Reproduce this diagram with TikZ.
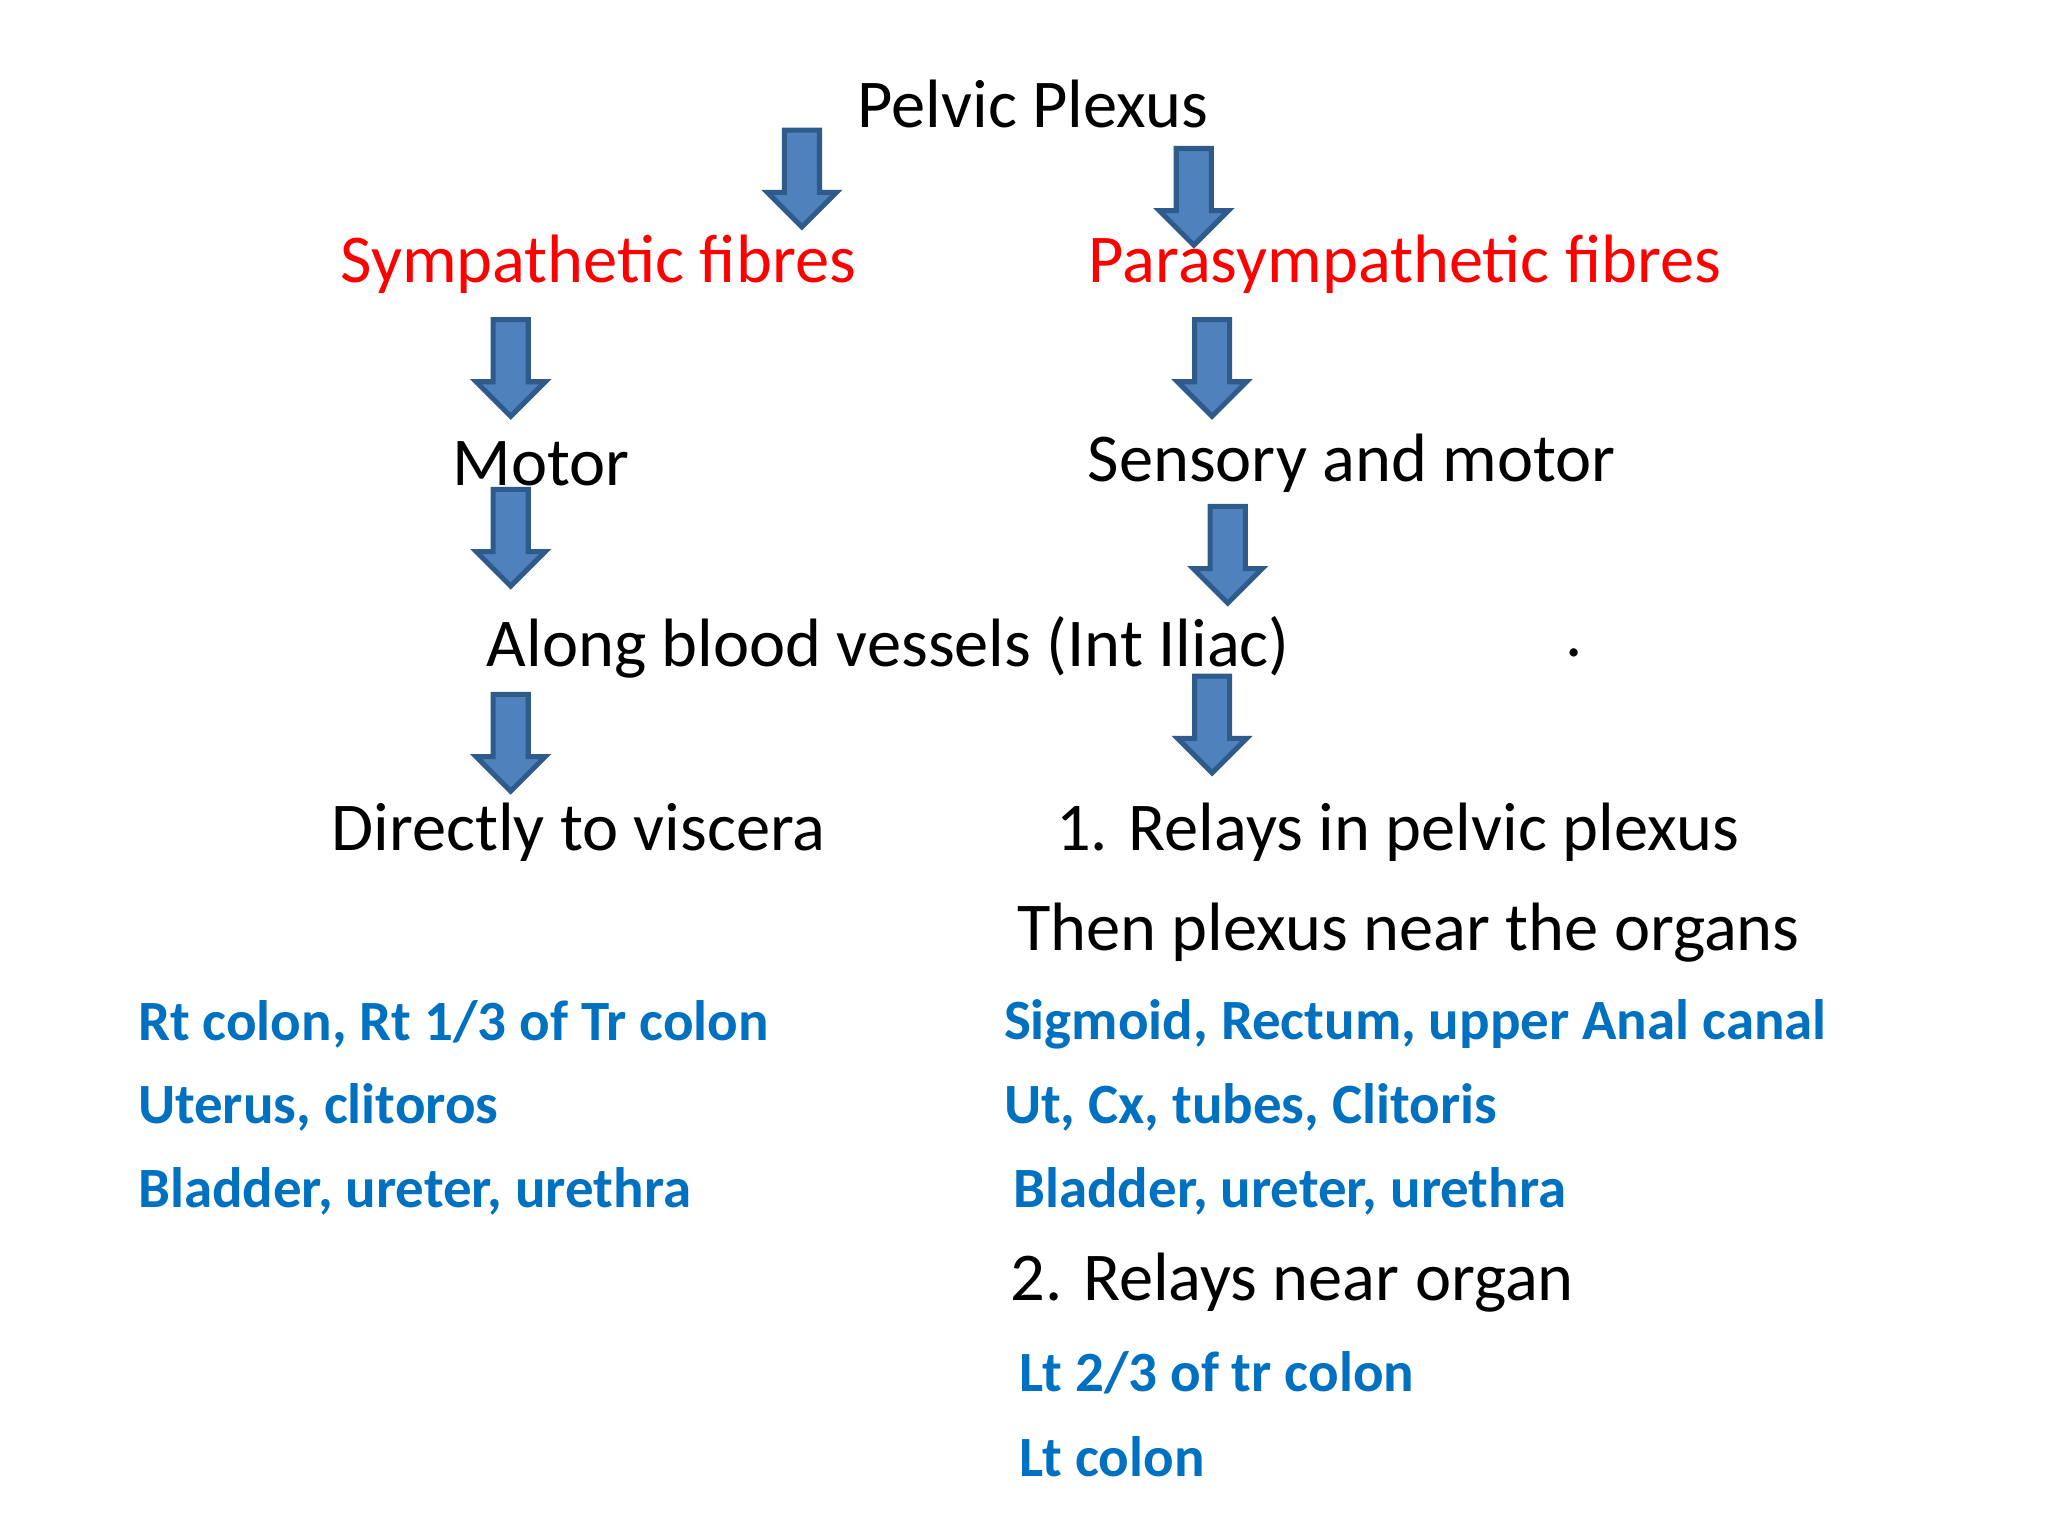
\documentclass[tikz,border=0pt]{standalone}
\usepackage{fontspec}
\setmainfont{Carlito}
\usetikzlibrary{shapes.arrows}
\definecolor{ablue}{HTML}{4F81BD}
\definecolor{aedge}{HTML}{2F5A8C}
\definecolor{tblue}{HTML}{0070C0}
\begin{document}
\begin{tikzpicture}[x=0.01cm,y=-0.01cm,
  blk/.style={anchor=west,inner sep=0,font=\fontsize{14.9pt}{17pt}\selectfont},
  red/.style={blk,text={rgb,255:red,255;green,0;blue,0}},
  bl/.style={anchor=west,inner sep=0,text=tblue,font=\fontsize{12.4pt}{14pt}\selectfont\bfseries},
  arr/.style={single arrow,rotate=-90,draw=aedge,line width=1.1pt,fill=ablue,inner xsep=0,inner ysep=0.115cm,
    single arrow head extend=0.13cm,minimum height=0.74cm}]
\useasboundingbox (0,0) rectangle (1568,1176);
\node[blk] (pp) at (656,80) {Pelvic Plexus};
\node[red] (sf) at (260,202) {Sympathetic fibres};
\node[red] (pf) at (833,202) {Parasympathetic fibres};
\node[blk] (mo) at (346,355) {Motor};
\node[blk] (sm) at (832,355) {Sensory and motor};
\node[blk] (ab) at (372,496) {Along blood vessels (Int Iliac)};
\node[blk] (dot) at (1198,500) {.};
\node[blk] (dv) at (253,637) {Directly to viscera};
\node[blk] (r1) at (808,637) {1. Relays in pelvic plexus};
\node[blk] (tp) at (778,714) {Then plexus near the organs};
\node[bl] (l1) at (105,784) {Rt colon, Rt 1/3 of Tr colon};
\node[bl] (l2) at (105,848) {Uterus, clitoros};
\node[bl] (l3) at (105,912) {Bladder, ureter, urethra};
\node[bl] (q1) at (768,784) {Sigmoid, Rectum, upper Anal canal};
\node[bl] (q2) at (768,848) {Ut, Cx, tubes, Clitoris};
\node[bl] (q3) at (775,912) {Bladder, ureter, urethra};
\node[blk] (r2) at (773,982) {2. Relays near organ};
\node[bl] (q4) at (780,1051) {Lt 2/3 of tr colon};
\node[bl] (q5) at (780,1115) {Lt colon};
\node[arr] (a1) at (614,130) {};
\node[arr] (a2) at (914,144) {};
\node[arr] (a3) at (391,275) {};
\node[arr] (a4) at (928,275) {};
\node[arr] (a5) at (391,405) {};
\node[arr] (a6) at (940,418) {};
\node[arr] (a7) at (391,562) {};
\node[arr] (a8) at (928,548) {};
\end{tikzpicture}
\end{document}
